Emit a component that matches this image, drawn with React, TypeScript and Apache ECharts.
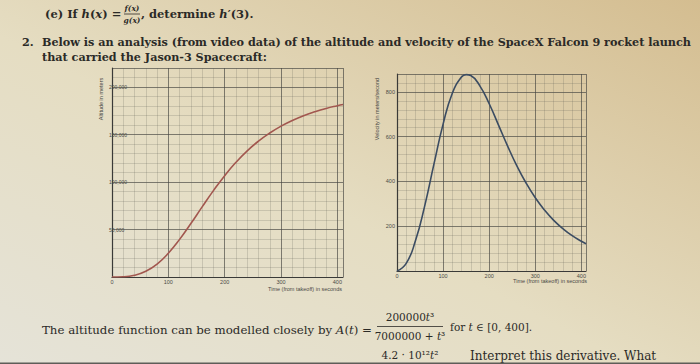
import React, { useEffect, useRef } from "react";
import * as echarts from "echarts";

// Altitude readings (seconds, metres)
const altTimes = [0, 20, 40, 60, 80, 100, 120, 140, 160, 180, 200, 220, 240, 260, 280, 300, 320, 340, 360, 380, 400, 410];
const altValues = [0, 230, 1800, 6000, 13600, 25000, 39600, 56300, 73800, 90900, 106700, 120700, 132800, 143000, 151600, 158800, 164800, 169800, 173900, 177400, 180300, 181600];

// Velocity readings (seconds, metres/second)
const velTimes = [0, 20, 40, 60, 80, 100, 120, 140, 150, 160, 180, 200, 220, 240, 260, 280, 300, 320, 340, 360, 380, 400, 410];
const velValues = [0, 34, 135, 290, 476, 656, 794, 867, 877, 873, 826, 747, 653, 558, 470, 393, 327, 272, 226, 189, 158, 133, 122];

const SERIF = '"DejaVu Serif", "Liberation Serif", serif';
const SANS = '"Liberation Sans", Arial, sans-serif';

function axisCommon() {
  return {
    type: "value" as const,
    axisLine: { show: true, onZero: false, lineStyle: { color: "#3a3a38", width: 1.2 } },
    axisTick: { show: false },
    splitLine: { show: true, lineStyle: { color: "rgba(70,70,66,0.75)", width: 0.9 } },
    minorTick: { show: false, splitNumber: 5 },
    minorSplitLine: { show: true, lineStyle: { color: "rgba(90,90,84,0.35)", width: 0.6 } },
  };
}

export default function App() {
  const ref = useRef<HTMLDivElement>(null);
  useEffect(() => {
    document.body.style.margin = "0";
    if (!ref.current) return;
    const chart = echarts.init(ref.current, null, { renderer: "svg" });
    const n = { fontFamily: SERIF, fontWeight: "bold" as const, fontSize: 11.2, fill: "#2b2a27" };
    const n1 = { ...n, fontSize: 11.5 };
    const n1i = { ...n1, fontStyle: "italic" as const };
    const r = { fontFamily: SERIF, fontSize: 11.8, fill: "#2b2a27" };
    const ri = { ...r, fontStyle: "italic" as const };
    const s = { fontFamily: SERIF, fontSize: 10.5, fill: "#2b2a27" };
    const si = { ...s, fontStyle: "italic" as const };
    const lab = { fontFamily: SANS, fontSize: 5.5, fill: "#4a4a46" };

    chart.setOption({
      animation: false,
      backgroundColor: new echarts.graphic.LinearGradient(0, 1, 1, 0, [
        { offset: 0, color: "#e5e3d8" },
        { offset: 0.45, color: "#e5ddc2" },
        { offset: 1, color: "#d4bd90" },
      ]),
      grid: [
        { left: 112, top: 68, width: 231, height: 209 },
        { left: 397, top: 74, width: 189, height: 197 },
      ],
      xAxis: [
        {
          ...axisCommon(),
          gridIndex: 0,
          min: 0,
          max: 410,
          interval: 100,
          axisLabel: { fontSize: 5.5, color: "#4a4a46", fontFamily: SANS, margin: 2, showMaxLabel: false },
        },
        {
          ...axisCommon(),
          gridIndex: 1,
          min: 0,
          max: 410,
          interval: 100,
          axisLabel: { fontSize: 5.5, color: "#4a4a46", fontFamily: SANS, margin: 2, showMaxLabel: false },
        },
      ],
      yAxis: [
        {
          ...axisCommon(),
          gridIndex: 0,
          min: 0,
          max: 220000,
          interval: 50000,
          axisLabel: { inside: true, margin: -3, fontSize: 5, color: "#4a4a46", fontFamily: SANS, showMinLabel: false, showMaxLabel: false },
        },
        {
          ...axisCommon(),
          gridIndex: 1,
          min: 0,
          max: 880,
          interval: 200,
          axisLabel: { margin: 2, fontSize: 5.5, color: "#4a4a46", fontFamily: SANS, showMinLabel: false, showMaxLabel: false },
        },
      ],
      series: [
        {
          name: "Altitude",
          type: "line",
          xAxisIndex: 0,
          yAxisIndex: 0,
          showSymbol: false,
          smooth: true,
          lineStyle: { color: "#a2574f", width: 1.6 },
          data: altTimes.map((t, i) => [t, altValues[i]]),
        },
        {
          name: "Velocity",
          type: "line",
          xAxisIndex: 1,
          yAxisIndex: 1,
          showSymbol: false,
          smooth: true,
          lineStyle: { color: "#3b4c62", width: 1.6 },
          data: velTimes.map((t, i) => [t, velValues[i]]),
        },
      ],
      graphic: [
        // axis names
        { type: "text", x: 101, y: 99, rotation: Math.PI / 2, style: { ...lab, text: "Altitude in meters", align: "center", verticalAlign: "middle" } },
        { type: "text", x: 377, y: 109, rotation: Math.PI / 2, style: { ...lab, text: "Velocity in meters/second", align: "center", verticalAlign: "middle" } },
        { type: "text", x: 342, y: 289, style: { ...lab, text: "Time (from takeoff) in seconds", align: "right", verticalAlign: "middle" } },
        { type: "text", x: 587, y: 281, style: { ...lab, text: "Time (from takeoff) in seconds", align: "right", verticalAlign: "middle" } },
        // line 1
        {
          type: "text", x: 45, y: 14,
          style: {
            text: "{n|(e) If }{i|h}{n|(}{i|x}{n|) =}", verticalAlign: "middle",
            rich: { n: n1, i: n1i },
          },
        },
        { type: "text", x: 132, y: 8, style: { ...si, fontSize: 7.5, fontWeight: "bold", text: "f(x)", align: "center", verticalAlign: "middle" } },
        { type: "line", shape: { x1: 124, y1: 14, x2: 140, y2: 14 }, style: { stroke: "#2b2a27", lineWidth: 0.8 } },
        { type: "text", x: 132, y: 20, style: { ...si, fontSize: 7.5, fontWeight: "bold", text: "g(x)", align: "center", verticalAlign: "middle" } },
        {
          type: "text", x: 141, y: 14,
          style: {
            text: "{n|, determine }{i|h}{n|′(3).}", verticalAlign: "middle",
            rich: { n: n1, i: n1i },
          },
        },
        // line 2, 3
        { type: "text", x: 22, y: 42, style: { ...n, text: "2.", verticalAlign: "middle" } },
        {
          type: "text", x: 42, y: 42,
          style: { ...n, text: "Below is an analysis (from video data) of the altitude and velocity of the SpaceX Falcon 9 rocket launch", verticalAlign: "middle" },
        },
        { type: "text", x: 42, y: 56.5, style: { ...n, text: "that carried the Jason-3 Spacecraft:", verticalAlign: "middle" } },
        // bottom text
        {
          type: "text", x: 42, y: 330,
          style: {
            text: "{n|The altitude function can be modelled closely by }{i|A}{n|(}{i|t}{n|) =}", verticalAlign: "middle",
            rich: { n: r, i: ri },
          },
        },
        {
          type: "text", x: 410, y: 317,
          style: { text: "{n|200000}{i|t}{n|³}", align: "center", verticalAlign: "middle", rich: { n: s, i: si } },
        },
        { type: "line", shape: { x1: 377, y1: 326.5, x2: 443, y2: 326.5 }, style: { stroke: "#2b2a27", lineWidth: 0.8 } },
        {
          type: "text", x: 410, y: 336,
          style: { text: "{n|7000000 + }{i|t}{n|³}", align: "center", verticalAlign: "middle", rich: { n: s, i: si } },
        },
        {
          type: "text", x: 450, y: 327,
          style: { text: "{n|for }{i|t}{n| ∈ [0, 400].}", verticalAlign: "middle", rich: { n: s, i: si } },
        },
        {
          type: "text", x: 410, y: 355,
          style: { text: "{n|4.2 · 10¹²}{i|t}{n|²}", align: "center", verticalAlign: "middle", rich: { n: s, i: si } },
        },
        { type: "text", x: 470, y: 355.5, style: { ...r, fontSize: 12, text: "Interpret this derivative. What", verticalAlign: "middle" } },
        { type: "rect", z: 100, shape: { x: 0, y: 362.5, width: 700, height: 2 }, style: { fill: "#5e5d58" } },
      ],
    });
    return () => chart.dispose();
  }, []);
  return <div ref={ref} style={{ position: "fixed", left: 0, top: 0, width: 700, height: 364 }} />;
}
